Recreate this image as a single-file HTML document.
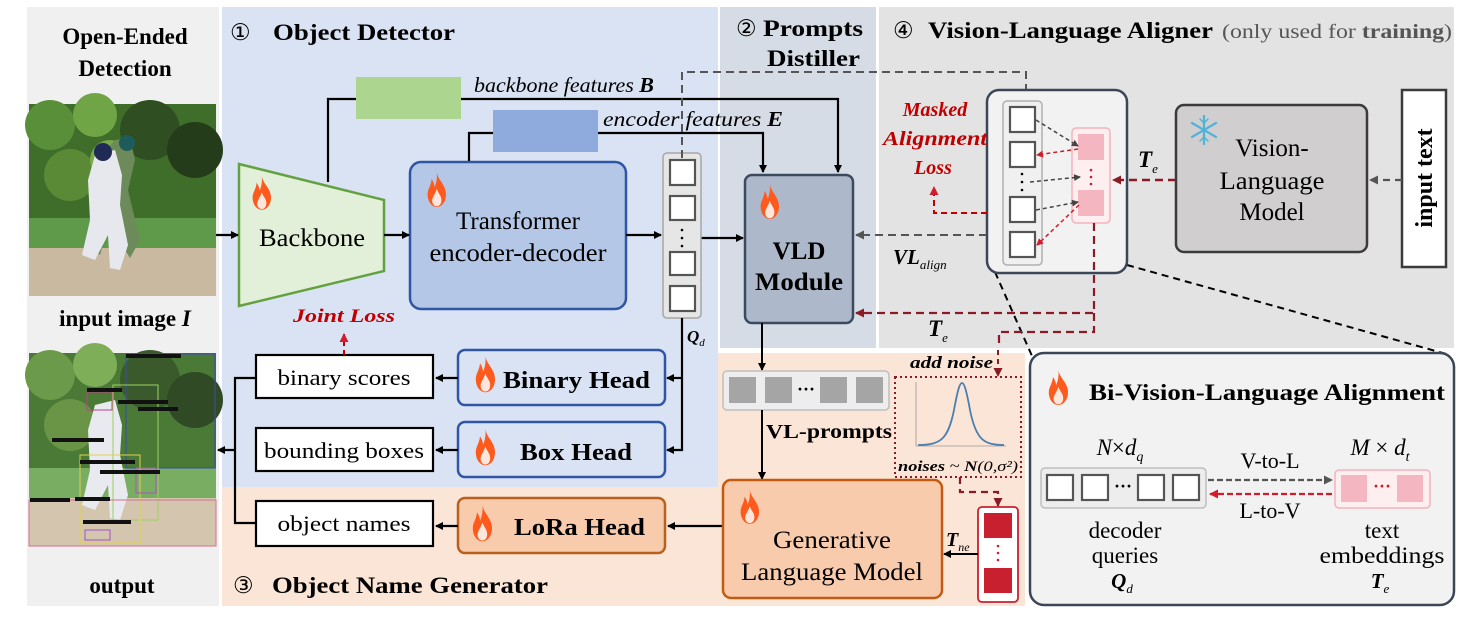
<!DOCTYPE html>
<html><head><meta charset="utf-8"><style>
html,body{margin:0;padding:0;background:#fff;}
svg{display:block;font-family:"Liberation Serif",serif;}
</style></head><body>
<svg width="1478" height="644" viewBox="0 0 1478 644" xmlns="http://www.w3.org/2000/svg">
<defs>
<marker id="ab" markerWidth="8" markerHeight="8" refX="7" refY="4" orient="auto" markerUnits="userSpaceOnUse"><path d="M0,0 L8,4 L0,8 Z" fill="#000"/></marker>
<marker id="ag" markerWidth="9" markerHeight="9" refX="8" refY="4.5" orient="auto" markerUnits="userSpaceOnUse"><path d="M0,0 L9,4.5 L0,9 Z" fill="#555"/></marker>
<marker id="ar" markerWidth="9" markerHeight="9" refX="8" refY="4.5" orient="auto" markerUnits="userSpaceOnUse"><path d="M0,0 L9,4.5 L0,9 Z" fill="#8b1a24"/></marker>
<marker id="ar2" markerWidth="9" markerHeight="9" refX="8" refY="4.5" orient="auto" markerUnits="userSpaceOnUse"><path d="M0,0 L9,4.5 L0,9 Z" fill="#d01c2c"/></marker>
<marker id="as" markerWidth="7" markerHeight="7" refX="6" refY="3.5" orient="auto" markerUnits="userSpaceOnUse"><path d="M0,0 L7,3.5 L0,7 Z" fill="#444"/></marker>
<marker id="asr" markerWidth="7" markerHeight="7" refX="6" refY="3.5" orient="auto" markerUnits="userSpaceOnUse"><path d="M0,0 L7,3.5 L0,7 Z" fill="#d01c2c"/></marker>
<g id="flame"><path d="M12 0 C13 6 20 9 20 16 C20 21 16.5 25 12 25 C7.5 25 4 21 4 16 C4 12 7 10 7.5 5 C9.5 7.5 10 9.5 10 11 C11.5 8 12.5 5 12 0 Z" fill="#fe5a1d"/><path d="M12 12 C13 15 16 17 16 20 C16 23 14 24.5 12 24.5 C10 24.5 8 23 8 20.5 C8 18 10.5 16 12 12 Z" fill="#fff" opacity="0.85"/></g>
</defs>

<!-- panels -->
<rect x="27" y="7" width="192" height="599" fill="#f0f0f0"/>
<rect x="222" y="7" width="496" height="480" fill="#dae3f3"/>
<rect x="222" y="487" width="496" height="119" fill="#fbe5d6"/>
<rect x="718" y="353" width="307" height="253" fill="#fbe5d6"/>
<rect x="720" y="7" width="156" height="341" fill="#d6dce5"/>
<rect x="879" y="7" width="575" height="341" fill="#e3e3e3"/>

<!-- titles -->
<text x="125" y="44" font-size="23" font-weight="bold" text-anchor="middle">Open-Ended</text>
<text x="125" y="76" font-size="23" font-weight="bold" text-anchor="middle">Detection</text>
<text x="125" y="326" font-size="23" font-weight="bold" text-anchor="middle">input image <tspan font-style="italic">I</tspan></text>
<text x="122" y="593" font-size="23" font-weight="bold" text-anchor="middle">output</text>
<text x="230" y="40" font-size="23">①</text>
<text x="273" y="40" font-size="23" font-weight="bold" textLength="182" lengthAdjust="spacingAndGlyphs">Object Detector</text>
<text x="736" y="36" font-size="23">②</text>
<text x="763" y="36" font-size="23" font-weight="bold" textLength="100" lengthAdjust="spacingAndGlyphs">Prompts</text>
<text x="767" y="66" font-size="23" font-weight="bold" textLength="93" lengthAdjust="spacingAndGlyphs">Distiller</text>
<text x="893" y="38" font-size="23">④</text>
<text x="928" y="38" font-size="23" font-weight="bold" textLength="285" lengthAdjust="spacingAndGlyphs">Vision-Language Aligner</text>
<text x="1222" y="38" font-size="20" fill="#555" textLength="230" lengthAdjust="spacingAndGlyphs">(only used for <tspan font-weight="bold">training</tspan>)</text>
<text x="233" y="593" font-size="23">③</text>
<text x="272" y="593" font-size="23" font-weight="bold" textLength="276" lengthAdjust="spacingAndGlyphs">Object Name Generator</text>

<!-- input photo -->
<g>
<rect x="29" y="104" width="187" height="192" fill="#3f6e2a"/>
<circle cx="50" cy="125" r="25" fill="#5a8f3a"/><circle cx="95" cy="115" r="22" fill="#6fa545"/><circle cx="150" cy="130" r="30" fill="#2f4f22"/><circle cx="195" cy="150" r="28" fill="#243c1a"/><circle cx="70" cy="175" r="26" fill="#5b8a36"/><circle cx="110" cy="160" r="20" fill="#7aa84c"/>
<rect x="29" y="218" width="187" height="30" fill="#5e9a4a"/>
<rect x="29" y="248" width="187" height="48" fill="#c9b9a0"/>
<path d="M115 140 L130 138 L135 160 L128 190 L140 240 L130 258 L122 245 L112 210 L100 255 L90 248 L100 200 L98 160 Z" fill="#6c8a5a"/>
<path d="M95 155 L115 150 L122 175 L120 205 L128 245 L120 270 L110 268 L108 235 L95 260 L82 255 L90 220 L88 180 Z" fill="#e6e8ee"/>
<circle cx="103" cy="152" r="9" fill="#1f2a55"/><circle cx="127" cy="143" r="8" fill="#1d5c5a"/>
</g>
<!-- output photo -->
<g>
<rect x="29" y="353" width="187" height="193" fill="#4a7a35"/>
<circle cx="50" cy="375" r="25" fill="#6b9a4a"/><circle cx="95" cy="365" r="22" fill="#7fae58"/><circle cx="150" cy="380" r="30" fill="#3a5a2c"/><circle cx="195" cy="400" r="28" fill="#2f4a24"/><circle cx="70" cy="425" r="26" fill="#6a9546"/>
<rect x="29" y="468" width="187" height="30" fill="#78ad62"/>
<rect x="29" y="498" width="187" height="48" fill="#d4c6ae"/>
<path d="M95 405 L115 400 L122 425 L120 455 L128 495 L120 520 L110 518 L108 485 L95 510 L82 505 L90 470 L88 430 Z" fill="#e8eaf0"/>
<g fill="none" stroke-width="1">
<rect x="126" y="354" width="89" height="114" stroke="#3a4fb0"/>
<rect x="87" y="392" width="25" height="18" stroke="#c0408a"/>
<rect x="113" y="385" width="45" height="135" stroke="#a0d060"/>
<rect x="80" y="455" width="60" height="88" stroke="#e0d050"/>
<rect x="136" y="468" width="20" height="25" stroke="#b050c0"/>
<rect x="85" y="530" width="25" height="10" stroke="#a050d0"/>
<rect x="29" y="500" width="187" height="46" stroke="#d07090"/>
</g>
<g fill="#111"><rect x="126" y="354" width="55" height="4"/><rect x="87" y="388" width="35" height="4"/><rect x="118" y="400" width="50" height="4"/><rect x="52" y="438" width="52" height="4"/><rect x="80" y="460" width="55" height="4"/><rect x="100" y="470" width="60" height="4"/><rect x="30" y="498" width="40" height="4"/><rect x="75" y="497" width="35" height="4"/><rect x="83" y="520" width="48" height="4"/><rect x="138" y="407" width="40" height="4"/></g>
</g>

<!-- backbone -->
<polygon points="239,164 384,200 384,271 239,306" fill="#e2f0d9" stroke="#63a140" stroke-width="2.5"/>
<use href="#flame" transform="translate(248,176) scale(1.15,1.35)"/>
<text x="312" y="246" font-size="25" text-anchor="middle" textLength="106" lengthAdjust="spacingAndGlyphs">Backbone</text>

<!-- transformer -->
<rect x="410" y="162" width="216" height="147" rx="11" fill="#b4c7e7" stroke="#2f55a4" stroke-width="2.5"/>
<use href="#flame" transform="translate(423,172) scale(1.15,1.4)"/>
<text x="518" y="229" font-size="25" text-anchor="middle" textLength="124" lengthAdjust="spacingAndGlyphs">Transformer</text>
<text x="518" y="261" font-size="25" text-anchor="middle" textLength="177" lengthAdjust="spacingAndGlyphs">encoder-decoder</text>

<!-- feature rects -->
<rect x="356" y="77" width="105" height="42" fill="#acd590"/>
<rect x="493" y="110" width="105" height="42" fill="#8faadc"/>
<polyline points="328,182 328,99 356,99" fill="none" stroke="#000" stroke-width="2.2"/>
<polyline points="461,99 838,99 838,172" fill="none" stroke="#000" stroke-width="2.2" marker-end="url(#ab)"/>
<polyline points="469,161 469,133 493,133" fill="none" stroke="#000" stroke-width="2.2"/>
<polyline points="598,133 763,133 763,172" fill="none" stroke="#000" stroke-width="2.2" marker-end="url(#ab)"/>
<text x="474" y="92" font-size="21" font-style="italic" textLength="180" lengthAdjust="spacingAndGlyphs">backbone features <tspan font-weight="bold">B</tspan></text>
<text x="603" y="126" font-size="21" font-style="italic" textLength="180" lengthAdjust="spacingAndGlyphs">encoder features <tspan font-weight="bold">E</tspan></text>

<!-- arrows main row -->
<line x1="216" y1="235" x2="238" y2="235" stroke="#000" stroke-width="2.2" marker-end="url(#ab)"/>
<line x1="384" y1="235" x2="409" y2="235" stroke="#000" stroke-width="2.2" marker-end="url(#ab)"/>
<line x1="626" y1="235" x2="661" y2="235" stroke="#000" stroke-width="2.2" marker-end="url(#ab)"/>
<line x1="701" y1="238" x2="743" y2="238" stroke="#000" stroke-width="2.2" marker-end="url(#ab)"/>

<!-- query column -->
<rect x="663" y="153" width="38" height="165" rx="4" fill="#e6e6e6" stroke="#a6a6a6" stroke-width="1.5"/>
<g fill="#fff" stroke="#555" stroke-width="2.2">
<rect x="670" y="160" width="25" height="25"/><rect x="670" y="196" width="25" height="24"/><rect x="670" y="252" width="25" height="23"/><rect x="670" y="286" width="25" height="25"/></g>
<g fill="#000"><circle cx="682" cy="230" r="1.3"/><circle cx="682" cy="238" r="1.3"/><circle cx="682" cy="246" r="1.3"/></g>
<polyline points="682,158 682,72 1026,72 1026,99" fill="none" stroke="#555" stroke-width="2" stroke-dasharray="8,5" marker-end="url(#ag)"/>

<!-- Q_d routing -->
<polyline points="682,318 682,450 667,450" fill="none" stroke="#000" stroke-width="2.2" marker-end="url(#ab)"/>
<line x1="682" y1="378" x2="667" y2="378" stroke="#000" stroke-width="2.2" marker-end="url(#ab)"/>
<text x="687" y="342" font-size="17" font-weight="bold" font-style="italic">Q<tspan font-size="11" dy="4" font-weight="normal">d</tspan></text>

<!-- heads -->
<rect x="458" y="350" width="207" height="55" rx="7" fill="#dae3f3" stroke="#2f55a4" stroke-width="2.5"/>
<use href="#flame" transform="translate(471,356) scale(1.2,1.45)"/>
<text x="503" y="388" font-size="24" font-weight="bold" textLength="147" lengthAdjust="spacingAndGlyphs">Binary Head</text>
<rect x="458" y="422" width="207" height="55" rx="7" fill="#dae3f3" stroke="#2f55a4" stroke-width="2.5"/>
<use href="#flame" transform="translate(471,429) scale(1.2,1.45)"/>
<text x="520" y="460" font-size="24" font-weight="bold" textLength="112" lengthAdjust="spacingAndGlyphs">Box Head</text>
<rect x="458" y="498" width="207" height="55" rx="7" fill="#f8cbad" stroke="#b8601d" stroke-width="2.5"/>
<use href="#flame" transform="translate(468,505) scale(1.2,1.45)"/>
<text x="514" y="535" font-size="24" font-weight="bold" textLength="131" lengthAdjust="spacingAndGlyphs">LoRa Head</text>

<rect x="256" y="355" width="177" height="43" fill="#fff" stroke="#000" stroke-width="2.2"/>
<text x="344" y="385" font-size="22" text-anchor="middle" textLength="133" lengthAdjust="spacingAndGlyphs">binary scores</text>
<rect x="256" y="428" width="177" height="43" fill="#fff" stroke="#000" stroke-width="2.2"/>
<text x="344" y="458" font-size="22" text-anchor="middle" textLength="160" lengthAdjust="spacingAndGlyphs">bounding boxes</text>
<rect x="256" y="501" width="177" height="45" fill="#fff" stroke="#000" stroke-width="2.2"/>
<text x="344" y="531" font-size="22" text-anchor="middle" textLength="133" lengthAdjust="spacingAndGlyphs">object names</text>
<line x1="458" y1="378" x2="436" y2="378" stroke="#000" stroke-width="2.2" marker-end="url(#ab)"/>
<line x1="458" y1="450" x2="436" y2="450" stroke="#000" stroke-width="2.2" marker-end="url(#ab)"/>
<line x1="458" y1="526" x2="436" y2="526" stroke="#000" stroke-width="2.2" marker-end="url(#ab)"/>
<line x1="723" y1="526" x2="668" y2="526" stroke="#000" stroke-width="2.2" marker-end="url(#ab)"/>
<polyline points="256,378 235,378 235,523 256,523" fill="none" stroke="#000" stroke-width="2.2"/>
<line x1="235" y1="450" x2="218" y2="450" stroke="#000" stroke-width="2.2" marker-end="url(#ab)"/>

<!-- joint loss -->
<line x1="344" y1="355" x2="344" y2="334" stroke="#c00000" stroke-width="2" stroke-dasharray="5,4" marker-end="url(#ar2)"/>
<text x="344" y="322" font-size="19" font-weight="bold" font-style="italic" fill="#c00000" text-anchor="middle" textLength="102" lengthAdjust="spacingAndGlyphs">Joint Loss</text>

<!-- VLD -->
<rect x="745" y="175" width="108" height="148" rx="7" fill="#adb9ca" stroke="#3b4a5e" stroke-width="2.5"/>
<use href="#flame" transform="translate(756,184) scale(1.15,1.4)"/>
<text x="799" y="259" font-size="25" font-weight="bold" text-anchor="middle">VLD</text>
<text x="799" y="290" font-size="25" font-weight="bold" text-anchor="middle" textLength="88" lengthAdjust="spacingAndGlyphs">Module</text>

<!-- VL prompts -->
<line x1="762" y1="323" x2="762" y2="370" stroke="#000" stroke-width="2" marker-end="url(#ab)"/>
<rect x="723" y="371" width="166" height="39" rx="4" fill="#ededed" stroke="#bfbfbf" stroke-width="1.5"/>
<g fill="#a5a5a5"><rect x="729" y="377" width="27" height="26"/><rect x="765" y="377" width="27" height="26"/><rect x="820" y="377" width="27" height="26"/><rect x="856" y="377" width="27" height="26"/></g>
<text x="806" y="395" font-size="18" text-anchor="middle" font-weight="bold">···</text>
<line x1="762" y1="410" x2="762" y2="479" stroke="#000" stroke-width="2" marker-end="url(#ab)"/>
<text x="766" y="438" font-size="20" font-weight="bold" textLength="126" lengthAdjust="spacingAndGlyphs">VL-prompts</text>

<!-- noise -->
<rect x="895" y="377" width="126" height="100" fill="none" stroke="#8b1a24" stroke-width="2" stroke-dasharray="2,3"/>
<text x="910" y="368" font-size="17" font-weight="bold" font-style="italic" textLength="83" lengthAdjust="spacingAndGlyphs">add noise</text>
<line x1="998" y1="350" x2="998" y2="376" stroke="#8b1a24" stroke-width="2" stroke-dasharray="5,4" marker-end="url(#ar)"/>
<polyline points="916,382 916,446 1006,446" fill="none" stroke="#999" stroke-width="0.8"/>
<path d="M918 445 C940 445 948 440 954 410 C958 388 960 383 962 383 C964 383 966 388 970 410 C976 440 984 445 1004 445" fill="none" stroke="#4a7fb0" stroke-width="1.8"/>
<text x="898" y="471" font-size="15" font-style="italic" textLength="120" lengthAdjust="spacingAndGlyphs"><tspan font-weight="bold">noises</tspan> ~ <tspan font-weight="bold">N</tspan>(0,σ²)</text>
<polyline points="960,477 960,492 998,492 998,506" fill="none" stroke="#8b1a24" stroke-width="2.2" stroke-dasharray="7,5" marker-end="url(#ar)"/>

<!-- T_ne -->
<rect x="978" y="507" width="40" height="95" rx="4" fill="#fff" stroke="#c9202f" stroke-width="1.8"/>
<rect x="984" y="513" width="28" height="25" fill="#c9202f"/><rect x="984" y="568" width="28" height="25" fill="#c9202f"/>
<g fill="#c9202f"><circle cx="998" cy="546" r="1.3"/><circle cx="998" cy="553" r="1.3"/><circle cx="998" cy="560" r="1.3"/></g>
<line x1="978" y1="554" x2="944" y2="554" stroke="#000" stroke-width="2" marker-end="url(#ab)"/>
<text x="946" y="546" font-size="20" font-weight="bold" font-style="italic">T<tspan font-size="12" font-weight="normal" dy="5">ne</tspan></text>

<!-- GLM -->
<rect x="723" y="480" width="219" height="118" rx="8" fill="#f8cbad" stroke="#c55a11" stroke-width="2.5"/>
<use href="#flame" transform="translate(736,490) scale(1.15,1.35)"/>
<text x="832" y="548" font-size="25" text-anchor="middle" textLength="118" lengthAdjust="spacingAndGlyphs">Generative</text>
<text x="832" y="580" font-size="25" text-anchor="middle" textLength="182" lengthAdjust="spacingAndGlyphs">Language Model</text>

<!-- aligner -->
<line x1="995" y1="272" x2="1032" y2="356" stroke="#000" stroke-width="2" stroke-dasharray="7,5"/>
<line x1="1127" y1="265" x2="1450" y2="355" stroke="#000" stroke-width="2" stroke-dasharray="7,5"/>
<rect x="987" y="90" width="140" height="183" rx="12" fill="#f2f2f2" stroke="#3b4656" stroke-width="2.5"/>
<rect x="1003" y="101" width="39" height="164" rx="4" fill="#f0f0f0" stroke="#b0b0b0" stroke-width="1.5"/>
<g fill="#fff" stroke="#555" stroke-width="2.2">
<rect x="1010" y="107" width="25" height="25"/><rect x="1010" y="142" width="25" height="25"/><rect x="1010" y="197" width="25" height="25"/><rect x="1010" y="232" width="25" height="25"/></g>
<g fill="#000"><circle cx="1022" cy="174" r="1.3"/><circle cx="1022" cy="182" r="1.3"/><circle cx="1022" cy="190" r="1.3"/></g>
<rect x="1072" y="128" width="38" height="95" rx="4" fill="#fdeef0" stroke="#f4b2bb" stroke-width="1.5"/>
<rect x="1078" y="134" width="26" height="26" fill="#f4b6c0"/><rect x="1078" y="190" width="26" height="26" fill="#f4b6c0"/>
<g fill="#d01c2c"><circle cx="1091" cy="170" r="1.3"/><circle cx="1091" cy="177" r="1.3"/><circle cx="1091" cy="184" r="1.3"/></g>
<g stroke-width="1.5" stroke-dasharray="4,3" fill="none">
<line x1="1036" y1="120" x2="1078" y2="146" stroke="#444" marker-end="url(#as)"/>
<line x1="1078" y1="149" x2="1037" y2="155" stroke="#d01c2c" marker-end="url(#asr)"/>
<line x1="1030" y1="182" x2="1080" y2="177" stroke="#444" marker-end="url(#as)"/>
<line x1="1036" y1="210" x2="1078" y2="202" stroke="#444" marker-end="url(#as)"/>
<line x1="1079" y1="205" x2="1037" y2="245" stroke="#d01c2c" marker-end="url(#asr)"/>
</g>
<text x="935" y="116" font-size="20" font-weight="bold" font-style="italic" fill="#c00000" text-anchor="middle">Masked</text>
<text x="935" y="145" font-size="20" font-weight="bold" font-style="italic" fill="#c00000" text-anchor="middle" textLength="104" lengthAdjust="spacingAndGlyphs">Alignment</text>
<text x="933" y="174" font-size="20" font-weight="bold" font-style="italic" fill="#c00000" text-anchor="middle">Loss</text>
<polyline points="987,213 934,213 934,187" fill="none" stroke="#c00000" stroke-width="2" stroke-dasharray="6,4" marker-end="url(#ar2)"/>
<line x1="987" y1="235" x2="856" y2="235" stroke="#555" stroke-width="2" stroke-dasharray="8,5" marker-end="url(#ag)"/>
<text x="893" y="264" font-size="21" font-weight="bold" font-style="italic">VL<tspan font-size="13" font-weight="normal" dy="5">align</tspan></text>
<polyline points="1094,223 1094,313 856,313" fill="none" stroke="#8b1a24" stroke-width="2.2" stroke-dasharray="8,5" marker-end="url(#ar)"/>
<polyline points="1094,313 1094,332 999,332 999,348" fill="none" stroke="#8b1a24" stroke-width="2.2" stroke-dasharray="8,5"/>
<text x="928" y="336" font-size="23" font-weight="bold" font-style="italic">T<tspan font-size="13" font-weight="normal" dy="6">e</tspan></text>

<!-- VLM -->
<rect x="1176" y="105" width="191" height="147" rx="8" fill="#d0cece" stroke="#3b3b3b" stroke-width="2.5"/>
<g transform="translate(1204,130)" stroke="#4fb3d9" stroke-width="2.2" stroke-linecap="round">
<line x1="0" y1="-14" x2="0" y2="14"/><line x1="-12" y1="-7" x2="12" y2="7"/><line x1="-12" y1="7" x2="12" y2="-7"/>
<path d="M-4,-11 L0,-7 L4,-11 M-4,11 L0,7 L4,11" fill="none" stroke-width="1.5"/></g>
<text x="1272" y="156" font-size="25" text-anchor="middle">Vision-</text>
<text x="1272" y="189" font-size="25" text-anchor="middle" textLength="105" lengthAdjust="spacingAndGlyphs">Language</text>
<text x="1272" y="220" font-size="25" text-anchor="middle">Model</text>
<rect x="1402" y="90" width="44" height="177" fill="#fff" stroke="#3b3b3b" stroke-width="2.5"/>
<text transform="translate(1432,178) rotate(-90)" font-size="24" font-weight="bold" text-anchor="middle">input text</text>
<line x1="1402" y1="180" x2="1370" y2="180" stroke="#555" stroke-width="2.2" stroke-dasharray="7,5" marker-end="url(#ag)"/>
<line x1="1176" y1="180" x2="1113" y2="180" stroke="#8b1a24" stroke-width="2.4" stroke-dasharray="8,5" marker-end="url(#ar)"/>
<text x="1138" y="167" font-size="23" font-weight="bold" font-style="italic">T<tspan font-size="13" font-weight="normal" dy="6">e</tspan></text>

<!-- Bi-VL -->
<rect x="1030" y="353" width="424" height="252" rx="14" fill="#f2f2f2" stroke="#3b4656" stroke-width="2.5"/>
<use href="#flame" transform="translate(1044,370) scale(1.2,1.4)"/>
<text x="1089" y="400" font-size="23" font-weight="bold" textLength="356" lengthAdjust="spacingAndGlyphs">Bi-Vision-Language Alignment</text>
<text x="1120" y="455" font-size="23" font-style="italic" text-anchor="middle">N<tspan font-style="normal">×</tspan>d<tspan font-size="14" dy="6">q</tspan></text>
<text x="1380" y="455" font-size="23" font-style="italic" text-anchor="middle">M<tspan font-style="normal"> × </tspan>d<tspan font-size="14" dy="6">t</tspan></text>
<rect x="1041" y="468" width="165" height="40" rx="4" fill="#ededed" stroke="#bfbfbf" stroke-width="1.5"/>
<g fill="#fff" stroke="#555" stroke-width="2.2"><rect x="1047" y="475" width="26" height="25"/><rect x="1082" y="475" width="26" height="25"/><rect x="1138" y="475" width="26" height="25"/><rect x="1173" y="475" width="26" height="25"/></g>
<text x="1123" y="492" font-size="18" font-weight="bold" text-anchor="middle">···</text>
<rect x="1335" y="470" width="95" height="38" rx="4" fill="#fdeef0" stroke="#f4b2bb" stroke-width="1.5"/>
<rect x="1341" y="475" width="26" height="27" fill="#f4b6c0"/><rect x="1397" y="475" width="26" height="27" fill="#f4b6c0"/>
<text x="1382" y="492" font-size="18" font-weight="bold" fill="#d01c2c" text-anchor="middle">···</text>
<line x1="1208" y1="480" x2="1332" y2="480" stroke="#555" stroke-width="2.2" stroke-dasharray="6,3" marker-end="url(#ag)"/>
<line x1="1332" y1="494" x2="1210" y2="494" stroke="#d01c2c" stroke-width="2.2" stroke-dasharray="6,3" marker-end="url(#ar2)"/>
<text x="1270" y="468" font-size="22" text-anchor="middle">V-to-L</text>
<text x="1270" y="518" font-size="22" text-anchor="middle">L-to-V</text>
<text x="1125" y="538" font-size="23" text-anchor="middle">decoder</text>
<text x="1125" y="563" font-size="23" text-anchor="middle">queries</text>
<text x="1122" y="588" font-size="21" font-weight="bold" font-style="italic" text-anchor="middle">Q<tspan font-size="13" font-weight="normal" dy="5">d</tspan></text>
<text x="1382" y="538" font-size="23" text-anchor="middle">text</text>
<text x="1382" y="563" font-size="23" text-anchor="middle" textLength="125" lengthAdjust="spacingAndGlyphs">embeddings</text>
<text x="1380" y="588" font-size="21" font-weight="bold" font-style="italic" text-anchor="middle">T<tspan font-size="13" font-weight="normal" dy="5">e</tspan></text>
</svg>
</body></html>
